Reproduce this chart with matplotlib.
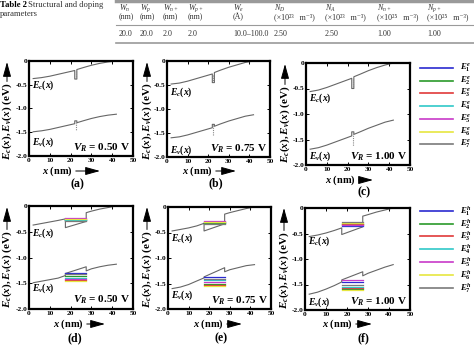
import matplotlib
matplotlib.use('Agg')
import matplotlib.pyplot as plt

plt.rcParams.update({
    'font.family': ['Liberation Serif', 'DejaVu Serif'],
    'mathtext.fontset': 'custom',
    'mathtext.rm': 'Liberation Serif:bold',
    'mathtext.it': 'Liberation Serif:italic:bold',
    'mathtext.bf': 'Liberation Serif:bold',
    'mathtext.sf': 'Liberation Serif:italic',
    'mathtext.tt': 'Liberation Serif',
    'axes.unicode_minus': False,
})

# ---------------- data ----------------
x_ticks = [0, 10, 20, 30, 40, 50]
y_ticks = [0, -0.5, -1.0, -1.5, -2.0]
y_ticklabels = ['0', '-0.5', '-1.0', '-1.5', '-2.0']
panel_letters = ['(a)', '(b)', '(c)', '(d)', '(e)', '(f)']
bias_values = ['0.50', '0.75', '1.00', '0.50', '0.75', '1.00']

# narrow well (Ww = 10 A) panels a-c
x_narrow = [2, 6, 10, 14, 18, 22, 22, 23, 23, 26, 30, 34, 38, 42]
Ec_a = [-0.37, -0.35, -0.32, -0.28, -0.24, -0.20, -0.38, -0.38, -0.18, -0.14, -0.09, -0.05, -0.02, 0.0]
Ev_a = [-1.49, -1.47, -1.44, -1.40, -1.36, -1.32, -1.26, -1.26, -1.30, -1.26, -1.21, -1.17, -1.14, -1.12]
Ec_b = [-0.48, -0.46, -0.42, -0.37, -0.32, -0.27, -0.45, -0.45, -0.24, -0.19, -0.13, -0.08, -0.03, 0.0]
Ev_b = [-1.60, -1.58, -1.54, -1.49, -1.44, -1.39, -1.32, -1.32, -1.36, -1.31, -1.25, -1.20, -1.15, -1.12]
Ec_c = [-0.56, -0.53, -0.48, -0.42, -0.36, -0.30, -0.50, -0.50, -0.27, -0.22, -0.15, -0.09, -0.04, 0.0]
Ev_c = [-1.69, -1.66, -1.61, -1.55, -1.49, -1.43, -1.35, -1.35, -1.40, -1.35, -1.28, -1.22, -1.16, -1.12]
narrow_center = 22.5
dots_Ec = [(-0.22, -0.36), (-0.29, -0.43), (-0.32, -0.48)]
dots_Ev = [(-1.28, -1.46), (-1.34, -1.54), (-1.37, -1.63)]

# wide well (Ww = 100 A) panels d-f
x_wide = [2, 6, 10, 14, 17.5, 17.5, 27.5, 27.5, 30, 34, 38, 42]
Ec_d = [-0.37, -0.34, -0.31, -0.28, -0.25, -0.42, -0.30, -0.13, -0.10, -0.06, -0.03, 0.0]
Ev_d = [-1.49, -1.46, -1.43, -1.40, -1.35, -1.31, -1.18, -1.26, -1.22, -1.18, -1.15, -1.13]
Ec_e = [-0.47, -0.44, -0.41, -0.37, -0.32, -0.47, -0.33, -0.14, -0.11, -0.07, -0.03, 0.0]
Ev_e = [-1.60, -1.57, -1.52, -1.45, -1.39, -1.37, -1.19, -1.27, -1.23, -1.19, -1.15, -1.13]
Ec_f = [-0.56, -0.53, -0.49, -0.44, -0.39, -0.52, -0.37, -0.16, -0.13, -0.08, -0.04, 0.0]
Ev_f = [-1.69, -1.65, -1.59, -1.52, -1.45, -1.41, -1.25, -1.33, -1.28, -1.22, -1.16, -1.11]
well_wide = [17.5, 27.5]

# quantized levels E1..E7 (blue, green, red, cyan, magenta, yellow, gray)
lev_e_d = [-0.28, -0.27, -0.255, -0.265, -0.24, -0.25, -0.30]
lev_h_d = [-1.30, -1.36, -1.44, -1.39, -1.42, -1.46, -1.33]
lev_e_e = [-0.31, -0.305, -0.285, -0.30, -0.27, -0.29, -0.33]
lev_h_e = [-1.37, -1.50, -1.52, -1.44, -1.47, -1.55, -1.41]
lev_e_f = [-0.35, -0.31, -0.32, -0.34, -0.33, -0.30, -0.28]
lev_h_f = [-1.45, -1.59, -1.57, -1.54, -1.41, -1.61, -1.50]
level_colors = ['#2a2ad0', '#2a9a2a', '#e03a3a', '#30c8c8', '#c83ac8', '#e6e640', '#7a7a7a']
legend_e = [r'$E_%d^e$' % i for i in range(1, 8)]
legend_h = [r'$E_%d^h$' % i for i in range(1, 8)]

# table
table_head1 = [r'$\mathsf{W_n}$', r'$\mathsf{W_p}$', r'$\mathsf{W_{n+}}$', r'$\mathsf{W_{p+}}$',
               r'$\mathsf{W_e}$', r'$\mathsf{N_D}$', r'$\mathsf{N_A}$', r'$\mathsf{N_{n+}}$', r'$\mathsf{N_{p+}}$']
table_head2 = ['(nm)', '(nm)', '(nm)', '(nm)', '(Å)',
               '(×10²³   m⁻³)', '(×10²³   m⁻³)', '(×10²⁵   m⁻³)', '(×10²⁵   m⁻³)']
table_row = ['20.0', '20.0', '2.0', '2.0', '10.0–100.0', '2.50', '2.50', '1.00', '1.00']

# ---------------- layout (pixels) ----------------
W, H = 474, 354
fig = plt.figure(figsize=(W / 100, H / 100), dpi=100)
ov = fig.add_axes([0, 0, 1, 1])
ov.set_xlim(0, W)
ov.set_ylim(H, 0)
ov.axis('off')

# left, top, right, bottom
boxes = [(29, 61, 133, 156), (167, 61, 270, 157), (306, 63, 410, 165),
         (29, 206, 133, 309), (168, 207, 271, 309), (305, 208, 410, 310)]
ylab_pos = [(7, 160, 62), (147, 160, 62), (285, 163, 64),
            (7, 308, 207), (147, 308, 207), (284, 309, 208)]
xlab_pos = [(13, 71, 171), (15, 69, 171), (19, 67, 180),
            (24, 76, 324), (25, 74, 324), (17, 67, 324)]
letter_pos = [(77, 184), (216, 183), (364, 192), (75, 338), (221, 338), (363, 338)]
ec_lab_y = [-0.52, -0.66, -0.69, -0.53, -0.61, -0.66]
ev_lab_y = [-1.72, -1.85, -1.82, -1.60, -1.74, -1.84]

panels = [
    (x_narrow, Ec_a, Ev_a, None, None),
    (x_narrow, Ec_b, Ev_b, None, None),
    (x_narrow, Ec_c, Ev_c, None, None),
    (x_wide, Ec_d, Ev_d, lev_e_d, lev_h_d),
    (x_wide, Ec_e, Ev_e, lev_e_e, lev_h_e),
    (x_wide, Ec_f, Ev_f, lev_e_f, lev_h_f),
]

curve_col = '#666666'
arrow_props = dict(arrowstyle='-|>,head_length=0.9,head_width=0.25', lw=0.7,
                   color='black', mutation_scale=10, shrinkA=0, shrinkB=0)

ylabels, xlabels = [], []
for i, (x, Ec, Ev, le, lh) in enumerate(panels):
    l, t, r, b = boxes[i]
    ax = fig.add_axes([l / W, 1 - b / H, (r - l) / W, (b - t) / H])
    ax.plot(x, Ec, color=curve_col, lw=0.8)
    ax.plot(x, Ev, color=curve_col, lw=0.8)
    if le is None:
        ax.plot([narrow_center] * 2, dots_Ec[i], color='#888888', lw=0.8, ls=(0, (1, 1)))
        ax.plot([narrow_center] * 2, dots_Ev[i], color='#888888', lw=0.8, ls=(0, (1, 1)))
    else:
        for v, c in zip(le, level_colors):
            ax.plot(well_wide, [v, v], color=c, lw=0.9)
        for v, c in zip(lh, level_colors):
            ax.plot(well_wide, [v, v], color=c, lw=0.9)
    ax.set_xlim(0, 50)
    ax.set_ylim(-2.0, 0)
    ax.set_xticks(x_ticks)
    ax.set_yticks(y_ticks)
    ax.set_yticklabels(y_ticklabels)
    ax.tick_params(direction='in', length=2.5, width=0.7, labelsize=5.3, pad=1.3,
                   top=True, right=True)
    for lab in ax.get_xticklabels() + ax.get_yticklabels():
        lab.set_fontweight('bold')
    for s in ax.spines.values():
        s.set_linewidth(1.6)
    ax.text(1.5, ec_lab_y[i], r'$E_c(x)$', fontsize=7, ha='left', va='center')
    ax.text(1.5, ev_lab_y[i], r'$E_v(x)$', fontsize=7, ha='left', va='center')
    ax.text(48.5, -1.83, r'$V_R$ = %s V' % bias_values[i], fontsize=8,
            fontweight='bold', ha='right', va='center')

    # labels in pixel overlay
    xc, yb, ytop = ylab_pos[i]
    tl = ov.text(xc, yb, r'$E_c(x), E_v(x)$ (eV)', rotation=90, ha='center', va='bottom',
                 fontsize=8, fontweight='bold')
    ylabels.append((tl, xc, ytop))
    x0, x1, yx = xlab_pos[i]
    tx = ov.text(l + x0, yx, r'$x$ (nm)', ha='left', va='center', fontsize=7.5, fontweight='bold')
    xlabels.append((tx, l + x1, yx))
    lx, ly = letter_pos[i]
    ov.text(lx, ly, panel_letters[i], ha='center', va='center', fontsize=8.5, fontweight='bold')

# arrows after measuring text
fig.canvas.draw()
for tl, xc, ytop in ylabels:
    bb = tl.get_window_extent()
    y_start = H - bb.y1 - 1
    ov.annotate('', xy=(xc, ytop), xytext=(xc, y_start), arrowprops=arrow_props)
for tx, xend, yx in xlabels:
    bb = tx.get_window_extent()
    ov.annotate('', xy=(xend, yx), xytext=(bb.x1 + 3, yx), arrowprops=arrow_props)

# legends
leg_y_e = [68, 81, 93, 106, 119, 132, 144]
leg_y_h = [211, 224, 236, 249, 262, 275, 288]
for ys, labs in ((leg_y_e, legend_e), (leg_y_h, legend_h)):
    for y, lab, c in zip(ys, labs, level_colors):
        ov.plot([420, 453], [y, y], color=c, lw=1.2)
        ov.text(460, y, lab, fontsize=6.3, ha='left', va='center')

# table header
ov.text(0, 5, 'Table 2', fontsize=6.2, fontweight='bold', ha='left', va='center')
ov.text(28, 5, 'Structural and doping', fontsize=6.2, ha='left', va='center', color='#333333')
ov.text(0, 14, 'parameters', fontsize=6.2, ha='left', va='center', color='#333333')
col_x = [119, 140, 163, 188, 233, 274, 325, 377, 427]
ov.plot([116, 474], [1, 1], color='#9a9a9a', lw=2.5)
ov.plot([116, 474], [25, 25], color='#9a9a9a', lw=0.8)
ov.plot([116, 474], [43, 43], color='#9a9a9a', lw=1.2)
for cx, h1, h2, v in zip(col_x, table_head1, table_head2, table_row):
    ov.text(cx, 8, h1, fontsize=5.8, ha='left', va='center', color='#333333')
    ov.text(cx, 17, h2, fontsize=5.8, ha='left', va='center', color='#333333')
    ov.text(cx, 34, v, fontsize=5.8, ha='left', va='center', color='#333333')

fig.savefig('out.png', dpi=100)
